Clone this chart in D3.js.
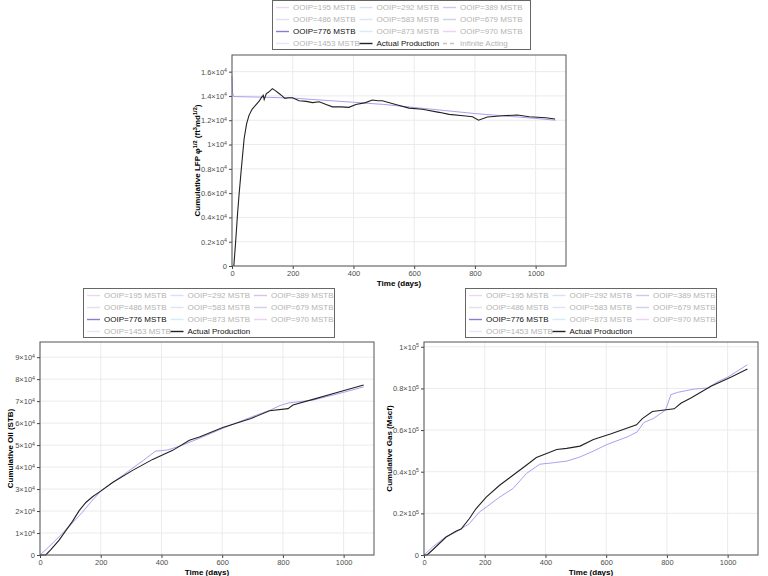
<!DOCTYPE html>
<html>
<head>
<meta charset="utf-8">
<script src="https://cdn.jsdelivr.net/npm/d3@7"></script>
<style>
  body { margin: 0; background: #fff; }
  svg { display: block; font-family: "Liberation Sans", Arial, sans-serif; }
</style>
</head>
<body>
<script>
// legend entries
const ooipValues = [195, 292, 389, 486, 583, 679, 776, 873, 970, 1453];
const ooipColors = ["#d9b0e6", "#a9c6f0", "#b088d8", "#c6c2dc", "#c2c8f2", "#a69ce6", "#8c7cd8", "#a4dcf6", "#e4a2ea", "#d4ccf0"];
const shownOoip = 776;

// ticks
const xTicks = [0, 200, 400, 600, 800, 1000];
const lfpTicks = [0, 2000, 4000, 6000, 8000, 10000, 12000, 14000, 16000];
const oilTicks = [0, 10000, 20000, 30000, 40000, 50000, 60000, 70000, 80000, 90000];
const gasTicks = [0, 20000, 40000, 60000, 80000, 100000];

// cumulative LFP
const lfpActualDays = [6, 12, 18, 23, 30, 40, 48, 56, 66, 78, 90, 98, 103, 106, 113, 120, 133, 145, 155, 165, 174, 185, 199, 221, 245, 265, 287, 310, 331, 360, 385, 408, 440, 462, 480, 495, 539, 583, 627, 682, 715, 770, 792, 812, 841, 891, 940, 979, 1034, 1064];
const lfpActual = [0, 2000, 4200, 5800, 7800, 10500, 11700, 12400, 12900, 13250, 13600, 13900, 14050, 13700, 14200, 14300, 14600, 14400, 14200, 14000, 13800, 13850, 13850, 13600, 13550, 13450, 13520, 13300, 13100, 13100, 13060, 13300, 13450, 13660, 13600, 13600, 13300, 13000, 12900, 12650, 12480, 12350, 12290, 12000, 12260, 12370, 12430, 12290, 12200, 12100];
const lfpModelDays = [0, 2, 5, 100, 200, 300, 400, 500, 600, 700, 800, 900, 1000, 1066];
const lfpModel = [15600, 14300, 13950, 13900, 13820, 13650, 13480, 13300, 13050, 12800, 12550, 12350, 12150, 12000];

// cumulative oil
const oilActualDays = [0, 19, 35, 63, 85, 107, 129, 151, 173, 195, 239, 305, 371, 437, 492, 525, 602, 695, 756, 817, 833, 899, 987, 1066];
const oilActual = [0, 0, 2300, 6800, 11100, 15300, 20200, 23900, 26500, 28600, 33000, 38500, 43500, 47600, 52200, 53700, 58000, 62100, 65600, 66600, 68200, 70800, 74300, 77300];
const oilModelDays = [0, 20, 50, 80, 110, 140, 170, 200, 250, 300, 340, 380, 420, 460, 520, 600, 700, 760, 790, 820, 900, 1000, 1066];
const oilModel = [0, 2500, 6500, 10800, 15000, 19500, 24500, 29000, 34000, 39000, 43000, 47200, 47800, 49500, 52800, 57500, 63000, 66000, 68000, 69200, 70500, 74000, 76500];

// cumulative gas
const gasActualDays = [0, 10, 28, 72, 105, 122, 149, 171, 205, 249, 293, 337, 370, 404, 437, 470, 514, 558, 614, 700, 719, 752, 824, 846, 879, 945, 1012, 1065];
const gasActual = [0, 0, 2400, 8500, 11400, 12500, 17400, 22200, 27800, 33500, 38300, 43100, 46800, 48800, 50700, 51200, 52300, 55500, 58100, 62500, 65500, 68900, 70200, 72900, 75400, 81000, 85500, 89300];
const gasModelDays = [0, 28, 72, 105, 149, 182, 205, 249, 293, 337, 381, 426, 470, 514, 558, 603, 669, 702, 724, 757, 796, 813, 835, 890, 934, 967, 1001, 1034, 1065];
const gasModel = [0, 3800, 8800, 11000, 15000, 20600, 23000, 27800, 31900, 39100, 43600, 44300, 45100, 47100, 49900, 53100, 56700, 59100, 63600, 65700, 69700, 77000, 78100, 79700, 80200, 83200, 85500, 88500, 91400];

const W = 768, H = 576;
const svg = d3.select("body").append("svg")
    .attr("width", W)
    .attr("height", H);

function zip(days, vals) {
    return days.map((d, i) => ({ t: d, v: vals[i] }));
}

// tick label like 1.2×10⁴ with a real superscript
function sciLabel(sel, d, exp) {
    sel.text(null);
    if (d === 0) { sel.text("0"); return; }
    const m = +(d / Math.pow(10, exp)).toFixed(2);
    sel.append("tspan").text(m + "×10");
    sel.append("tspan").attr("dy", "-0.45em").attr("font-size", "0.7em").text(exp);
}

function drawPanel(cfg) {
    const x = d3.scaleLinear().domain([0, 1100]).range([cfg.left, cfg.right]);
    const y = d3.scaleLinear().domain([0, cfg.yMax]).range([cfg.bottom, cfg.top]);
    const g = svg.append("g");

    // grid
    g.append("g").selectAll("line").data(cfg.yTicks).join("line")
        .attr("x1", cfg.left).attr("x2", cfg.right)
        .attr("y1", d => y(d)).attr("y2", d => y(d))
        .attr("stroke", "#ebebeb");
    g.append("g").selectAll("line").data(xTicks).join("line")
        .attr("x1", d => x(d)).attr("x2", d => x(d))
        .attr("y1", cfg.top).attr("y2", cfg.bottom)
        .attr("stroke", "#ebebeb");

    const line = d3.line().x(d => x(d.t)).y(d => y(d.v));
    g.append("path").datum(zip(cfg.modelDays, cfg.model))
        .attr("d", line).attr("fill", "none")
        .attr("stroke", "#ab9ff0").attr("stroke-width", 1);
    g.append("path").datum(zip(cfg.actualDays, cfg.actual))
        .attr("d", line).attr("fill", "none")
        .attr("stroke", "#222").attr("stroke-width", 1.1);

    // axes
    const xa = g.append("g").attr("transform", `translate(0,${cfg.bottom})`)
        .call(d3.axisBottom(x).tickValues(xTicks).tickFormat(d3.format("d")).tickSize(3).tickPadding(2));
    const ya = g.append("g").attr("transform", `translate(${cfg.left},0)`)
        .call(d3.axisLeft(y).tickValues(cfg.yTicks).tickSize(3).tickPadding(2));
    [xa, ya].forEach(a => {
        a.select(".domain").remove();
        a.selectAll("line").attr("stroke", "#444");
        a.selectAll("text").attr("fill", "#4d4d4d").attr("font-size", 7.5)
            .attr("font-family", "Liberation Sans, Arial, sans-serif");
    });
    ya.selectAll(".tick text").each(function(d) { sciLabel(d3.select(this), d, cfg.exp); });

    g.append("rect")
        .attr("x", cfg.left).attr("y", cfg.top)
        .attr("width", cfg.right - cfg.left).attr("height", cfg.bottom - cfg.top)
        .attr("fill", "none").attr("stroke", "#555").attr("stroke-width", 1);

    g.append("text")
        .attr("x", (cfg.left + cfg.right) / 2).attr("y", cfg.bottom + 20)
        .attr("text-anchor", "middle").attr("font-size", 8).attr("font-weight", "bold")
        .text("Time (days)");

    const yt = g.append("text")
        .attr("transform", `translate(${cfg.yTitleX},${(cfg.top + cfg.bottom) / 2}) rotate(-90)`)
        .attr("text-anchor", "middle").attr("font-size", 8).attr("font-weight", "bold");
    let raised = false;
    cfg.yTitle.forEach(s => {
        if (typeof s === "object") {
            yt.append("tspan").attr("dy", "-3.2").attr("font-size", "0.7em").text(s.up);
            raised = true;
        } else {
            yt.append("tspan").attr("dy", raised ? "3.2" : null).text(s);
            raised = false;
        }
    });

    drawLegend(cfg.legendX, cfg.legendY, cfg.legendW, cfg.withInfinite);
}

function drawLegend(lx, ly, lw, withInfinite) {
    const entries = ooipValues.map((v, i) => ({
        label: `OOIP=${v} MSTB`, color: ooipColors[i], hidden: v !== shownOoip, dash: null
    }));
    entries.push({ label: "Actual Production", color: "#222", hidden: false, dash: null });
    if (withInfinite) entries.push({ label: "Infinite Acting", color: "#888", hidden: true, dash: "4,3" });

    const g = svg.append("g").attr("transform", `translate(${lx},${ly})`);
    g.append("rect").attr("x", 0.5).attr("y", 0.5).attr("width", lw).attr("height", 49)
        .attr("fill", "#fff").attr("stroke", "#666").attr("stroke-width", 1);

    const item = g.selectAll("g.item").data(entries).join("g")
        .attr("class", "item")
        .attr("transform", (d, i) => `translate(${4 + (i % 3) * 83.5},${7.5 + Math.floor(i / 3) * 12})`)
        .attr("opacity", d => d.hidden ? 0.5 : 1);
    item.append("line")
        .attr("x1", 0).attr("x2", 13)
        .attr("stroke", d => d.color).attr("stroke-width", 1.4)
        .attr("stroke-dasharray", d => d.dash);
    item.append("text")
        .attr("x", 17).attr("dy", "0.35em")
        .attr("font-size", 8)
        .attr("fill", d => d.hidden ? "#666" : "#111")
        .text(d => d.label);
}

drawPanel({
    left: 232, right: 566, top: 55, bottom: 266,
    yMax: 17370, yTicks: lfpTicks, exp: 4,
    actualDays: lfpActualDays, actual: lfpActual,
    modelDays: lfpModelDays, model: lfpModel,
    yTitleX: 200,
    yTitle: ["Cumulative LFP φ", { up: "1/2" }, " (ft", { up: "3" }, "md", { up: "1/2" }, ")"],
    legendX: 272, legendY: 0, legendW: 258, withInfinite: true
});

drawPanel({
    left: 40, right: 374, top: 342, bottom: 555,
    yMax: 96900, yTicks: oilTicks, exp: 4,
    actualDays: oilActualDays, actual: oilActual,
    modelDays: oilModelDays, model: oilModel,
    yTitleX: 13,
    yTitle: ["Cumulative Oil (STB)"],
    legendX: 83, legendY: 288, legendW: 251, withInfinite: false
});

drawPanel({
    left: 424, right: 758, top: 342, bottom: 555,
    yMax: 102300, yTicks: gasTicks, exp: 5,
    actualDays: gasActualDays, actual: gasActual,
    modelDays: gasModelDays, model: gasModel,
    yTitleX: 392,
    yTitle: ["Cumulative Gas (Mscf)"],
    legendX: 465, legendY: 288, legendW: 251, withInfinite: false
});
</script>
</body>
</html>
